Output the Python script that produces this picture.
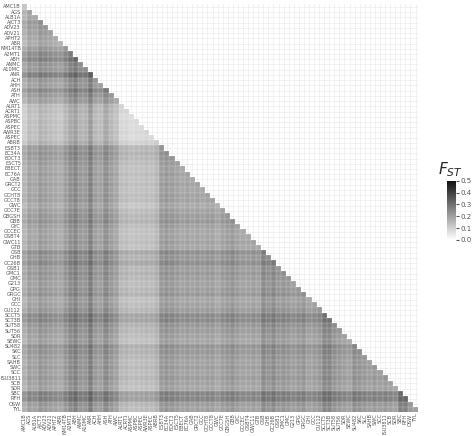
import numpy as np, pandas as pd, seaborn as sns, matplotlib.pyplot as plt
from matplotlib.colors import LinearSegmentedColormap

pops = ["AMC1B","AGS","ALB1A","AJCT3","ADV23","ADV21","APHT2","ABR","NM14TB","A2MT1","ABH","ANMC","A10MC","ANR","ACH","AHH","ASH","ATH","AWC","ALRT1","ACRT1","ASPMC","ASPBC","ASPEC","AWR3E","ASPEC","ABRB","ESBT3","EC34A","EDCT3","ESCT5","EBECT","EC76A","GAB","GRCT2","GCC","GCHT8","GCCT8","GWC","GCC7E","GBGSH","GBB","GYC","GCCEC","GSBT4","GWC11","GTB","GSB","GHB","GC26B","GSB1","GMC1","GMC","G213","GPG","GRGC","GHI","GCC","GU112","SCCT5","SCT3B","SUT58","SUT56","SDR","SEWC","SU482","SKC","SLC","SAHB","SWC","SCC","ISU3811","SCB","SDR","SBC","RFH","OSW","TYL"]
# per-population differentiation level read from the shading of each row/column
level = [0.12,0.20,0.18,0.24,0.22,0.20,0.18,0.16,0.22,0.28,0.32,0.24,0.24,0.34,0.22,0.20,0.28,0.22,0.18,0.09,0.09,0.07,0.08,0.08,0.09,0.08,0.11,0.22,0.24,0.22,0.20,0.18,0.20,0.18,0.20,0.18,0.20,0.20,0.16,0.20,0.22,0.24,0.20,0.18,0.18,0.20,0.18,0.28,0.24,0.28,0.22,0.24,0.22,0.20,0.22,0.24,0.18,0.20,0.22,0.30,0.30,0.24,0.22,0.20,0.18,0.26,0.24,0.22,0.20,0.22,0.20,0.22,0.20,0.18,0.32,0.32,0.22,0.20]

n = len(pops)
L = np.array(level)
M = (L[:, None] + L[None, :]) / 2
mask = np.triu(np.ones((n, n), bool), k=1)
df = pd.DataFrame(M)

sns.set_style("white")
fig = plt.figure(figsize=(4.74, 4.36), dpi=100)
ax = fig.add_axes([0.047, 0.055, 0.835, 0.935])
cax = fig.add_axes([0.943, 0.45, 0.02, 0.135])
cmap = LinearSegmentedColormap.from_list("g", ["#ffffff", "#111111"])
for i in range(n):
    ax.axhline(i + 0.5, color="#ebebeb", lw=0.5, zorder=0)
    ax.axvline(i + 0.5, color="#ebebeb", lw=0.5, zorder=0)
sns.heatmap(df, mask=mask, cmap=cmap, vmin=0, vmax=0.5, linewidths=0,
            ax=ax, cbar_ax=cax, xticklabels=pops, yticklabels=pops)
for i in range(1, n):
    ax.axhline(i, color="white", lw=0.25, alpha=0.6, zorder=5)
    ax.axvline(i, color="white", lw=0.25, alpha=0.6, zorder=5)
ax.set_xticks(np.arange(n) + 0.5)
ax.set_xticklabels(pops, rotation=90, fontsize=3.6, color="#555555")
ax.set_yticks(np.arange(n) + 0.5)
ax.set_yticklabels(pops, fontsize=3.6, color="#555555")
ax.tick_params(length=0, pad=1)
cax.tick_params(labelsize=5, length=2, colors="#555555", pad=1)
cax.set_yticks([0, 0.1, 0.2, 0.3, 0.4, 0.5])
cax.set_yticklabels(["0.0", "0.1", "0.2", "0.3", "0.4", "0.5"])
fig.text(0.925, 0.6, r"$F_{ST}$", fontsize=11)
fig.savefig("out.png", dpi=100)
